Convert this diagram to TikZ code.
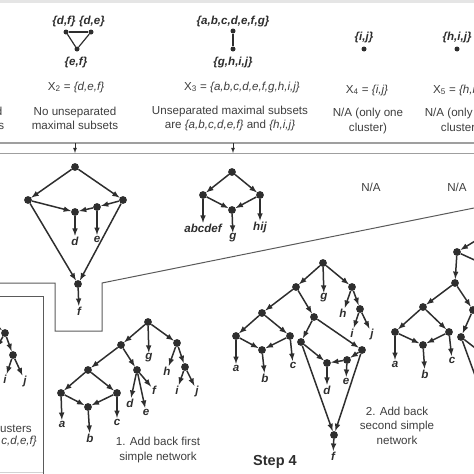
\documentclass[tikz,border=0pt]{standalone}
\usepackage{fontspec}
\setmainfont{Liberation Sans}
\usepackage{tikz}
\usetikzlibrary{arrows}
\definecolor{ink}{HTML}{2E2E2E}
\definecolor{txtc}{HTML}{3E3E3E}
\definecolor{rule}{HTML}{5A5A5A}
\tikzstyle{dot}=[circle, inner sep=0pt, minimum size=7.8pt, fill=ink, draw=none]
\tikzstyle{sdot}=[circle, inner sep=0pt, minimum size=5pt, fill=ink, draw=none]
\tikzstyle{lab}=[inner sep=0.8pt, text=ink, font=\fontsize{11.6}{14}\selectfont\bfseries\itshape]
\tikzstyle{txt}=[inner sep=0pt, text=txtc, align=center, font=\fontsize{11.6}{14.5}\selectfont]
\tikzstyle{arr}=[-latex, line width=1.5pt, draw=ink]
\tikzstyle{edge}=[line width=1.2pt, draw=ink]
\tikzstyle{frame}=[line width=1pt, draw=rule]

\begin{document}
\begin{tikzpicture}[x=1pt, y=-1pt]
    \useasboundingbox (0,0) rectangle (474,474);
    \clip (0,0) rectangle (474,474);
    \fill[gray!20] (0,0) rectangle (474,2.5);

    % top row: separation graphs
    \node[txt] (c1) at (-39,118.5) {No unseparated\\maximal subsets};
    \node[lab] (s2a) at (64,21) {\{d,f\}};
    \node[lab] (s2b) at (92,21) {\{d,e\}};
    \node[lab] (s2c) at (76,62) {\{e,f\}};
    \node[sdot] (g2a) at (66,32) {};
    \node[sdot] (g2b) at (91,32) {};
    \node[sdot] (g2c) at (77,49) {};
    \foreach \from/\to in {g2a/g2b, g2a/g2c, g2b/g2c}
    \draw[edge] (\from) -- (\to);
    \node[txt] (x2) at (76,87) {X\textsubscript{2} = \textit{\{d,e,f\}}};
    \node[txt] (c2) at (75,118.5) {No unseparated\\maximal subsets};

    \node[lab] (s3a) at (233,21) {\{a,b,c,d,e,f,g\}};
    \node[lab] (s3b) at (233,62) {\{g,h,i,j\}};
    \node[sdot] (g3a) at (233,31) {};
    \node[sdot] (g3b) at (233,49) {};
    \draw[edge] (g3a) -- (g3b);
    \node[txt] (x3) at (242,87) {X\textsubscript{3} = \textit{\{a,b,c,d,e,f,g,h,i,j\}}};
    \node[txt] (c3) at (230,118.5) {Unseparated maximal subsets\\are \textit{\{a,b,c,d,e,f\}} and \textit{\{h,i,j\}}};

    \node[lab] (s4) at (364,37) {\{i,j\}};
    \node[sdot] (g4) at (364,49) {};
    \node[txt] (x4) at (367,90) {X\textsubscript{4} = \textit{\{i,j\}}};
    \node[txt] (c4) at (368,121) {N/A (only one\\cluster)};

    \node[lab] (s5) at (457,37) {\{h,i,j\}};
    \node[sdot] (g5) at (457,49) {};
    \node[txt] (x5) at (459,90) {X\textsubscript{5} = \textit{\{h,i,j\}}};
    \node[txt] (c5) at (460,121) {N/A (only one\\cluster)};

    % band
    \draw[line width=1.2pt, draw=gray!75] (0,143) -- (474,143);
    \draw[line width=1.2pt, draw=gray!75] (0,153.5) -- (474,153.5);
    \coordinate (b2t) at (75,143);
    \coordinate (b2b) at (75,153);
    \coordinate (b3t) at (233,143);
    \coordinate (b3b) at (233,153);
    \draw[-latex, line width=0.8pt, draw=ink] (b2t) -- (b2b);
    \draw[-latex, line width=0.8pt, draw=ink] (b3t) -- (b3b);

    % simple network for {d,e,f}
    \node[dot] (n2r) at (75,167) {};
    \node[dot] (n2L) at (28,200) {};
    \node[dot] (n2R) at (123,200) {};
    \node[dot] (n2M) at (75,212) {};
    \node[dot] (n2N) at (97,207) {};
    \node[dot] (n2B) at (78,284) {};
    \node[lab] (n2d) at (75,241) {d};
    \node[lab] (n2e) at (97,239) {e};
    \node[lab] (n2f) at (79,311) {f};
    \foreach \from/\to in
      {n2r/n2L, n2r/n2R, n2L/n2M, n2R/n2N, n2N/n2M, n2L/n2B, n2R/n2B,
       n2M/n2d, n2N/n2e, n2B/n2f}
    \draw[arr] (\from) -- (\to);

    % simple network for X3
    \node[dot] (n3t) at (232,172) {};
    \node[dot] (n3l) at (203,195) {};
    \node[dot] (n3r) at (260,195) {};
    \node[dot] (n3m) at (232,210) {};
    \node[lab] (n3a) at (203,228) {abcdef};
    \node[lab] (n3g) at (233,238) {g};
    \node[lab] (n3h) at (260,227) {hij};
    \foreach \from/\to in
      {n3t/n3l, n3t/n3r, n3l/n3m, n3r/n3m, n3l/n3a, n3m/n3g, n3r/n3h}
    \draw[arr] (\from) -- (\to);

    \node[txt] (na4) at (371,187) {N/A};
    \node[txt] (na5) at (457,187) {N/A};

    % outlines
    \draw[frame] (0,283) -- (55,283) -- (55,331) -- (102,331) -- (102,283) -- (474,208);
    \draw[frame] (0,296) -- (43,296) -- (43,474);
    \draw[line width=1pt, draw=gray!35] (0,472) -- (43,472);

    % left box (cut off)
    \coordinate (p00) at (-12,318);
    \coordinate (ph) at (-3,347);
    \node[dot] (p0) at (5,333) {};
    \node[dot] (p1) at (13,355) {};
    \node[lab] (pi) at (5,379) {i};
    \node[lab] (pj) at (25,381) {j};
    \foreach \from/\to in {p00/p0, p0/ph, p0/p1, p1/pi, p1/pj}
    \draw[arr] (\from) -- (\to);
    \node[txt, anchor=east] (k1) at (32,428) {clusters};
    \node[txt, anchor=east] (k2) at (37,441) {\textit{\{a,b,c,d,e,f\}}};

    % step 4, first simple network added back
    \node[dot] (a1T) at (148,322) {};
    \node[dot] (a1A) at (121,345) {};
    \node[dot] (a1B) at (88,370) {};
    \node[dot] (a1C) at (137,370) {};
    \node[dot] (a1D) at (61,393) {};
    \node[dot] (a1E) at (117,393) {};
    \node[dot] (a1F) at (88,407) {};
    \node[dot] (a1H) at (177,343) {};
    \node[dot] (a1I) at (185,367) {};
    \node[lab] (a1g) at (149,358) {g};
    \node[lab] (a1a) at (62,424) {a};
    \node[lab] (a1b) at (90,438) {b};
    \node[lab] (a1c) at (117,422) {c};
    \node[lab] (a1d) at (130,403) {d};
    \node[lab] (a1e) at (146,412) {e};
    \node[lab] (a1f) at (154,390) {f};
    \node[lab] (a1h) at (167,371) {h};
    \node[lab] (a1i) at (177,390) {i};
    \node[lab] (a1j) at (197,391) {j};
    \foreach \from/\to in
      {a1T/a1A, a1T/a1g, a1T/a1H, a1A/a1B, a1A/a1C, a1B/a1D, a1B/a1E,
       a1D/a1F, a1E/a1F, a1D/a1a, a1F/a1b, a1E/a1c, a1C/a1d, a1C/a1e,
       a1C/a1f, a1H/a1h, a1H/a1I, a1I/a1i, a1I/a1j}
    \draw[arr] (\from) -- (\to);

    % second simple network added back
    \node[dot] (a2T) at (323,263) {};
    \node[dot] (a2A) at (296,287) {};
    \node[dot] (a2B) at (262,313) {};
    \node[dot] (a2C) at (314,317) {};
    \node[dot] (a2D) at (236,336) {};
    \node[dot] (a2E) at (290,336) {};
    \node[dot] (a2F) at (262,350) {};
    \node[dot] (a2H) at (352,287) {};
    \node[dot] (a2I) at (360,309) {};
    \node[dot] (a2L) at (301,342) {};
    \node[dot] (a2R) at (362,350) {};
    \node[dot] (a2M) at (327,363) {};
    \node[dot] (a2N) at (347,360) {};
    \node[dot] (a2X) at (334,435) {};
    \node[lab] (a2g) at (324,298) {g};
    \node[lab] (a2a) at (236,368) {a};
    \node[lab] (a2b) at (265,378) {b};
    \node[lab] (a2c) at (293,365) {c};
    \node[lab] (a2h) at (343,313) {h};
    \node[lab] (a2i) at (352,333) {i};
    \node[lab] (a2j) at (372,334) {j};
    \node[lab] (a2d) at (327,390) {d};
    \node[lab] (a2e) at (346,381) {e};
    \node[lab] (a2f) at (333,456) {f};
    \foreach \from/\to in
      {a2T/a2g, a2T/a2A, a2T/a2H, a2A/a2B, a2A/a2C, a2B/a2D, a2B/a2E,
       a2D/a2F, a2E/a2F, a2D/a2a, a2F/a2b, a2E/a2c, a2H/a2h, a2H/a2I,
       a2I/a2i, a2I/a2j, a2C/a2L, a2C/a2R, a2L/a2M, a2R/a2N, a2N/a2M,
       a2M/a2d, a2N/a2e, a2L/a2X, a2R/a2X, a2X/a2f}
    \draw[arr] (\from) -- (\to);

    % third network (cut off at the right)
    \coordinate (a3in) at (490,232);
    \coordinate (a3o1) at (492,268);
    \coordinate (a3o2) at (495,430);
    \coordinate (a3o3) at (488,358);
    \node[dot] (a3U) at (457,252) {};
    \node[dot] (a3V) at (455,283) {};
    \node[dot] (a3W) at (423,307) {};
    \node[dot] (a3X) at (473,310) {};
    \node[dot] (a3Y) at (395,332) {};
    \node[dot] (a3Z) at (449,332) {};
    \node[dot] (a3Q) at (423,345) {};
    \node[dot] (a3S) at (461,337) {};
    \node[lab] (a3a) at (395,364) {a};
    \node[lab] (a3b) at (425,374) {b};
    \node[lab] (a3c) at (452,360) {c};
    \foreach \from/\to in
      {a3in/a3U, a3U/a3o1, a3U/a3V, a3V/a3W, a3V/a3X, a3W/a3Y, a3W/a3Z,
       a3Y/a3Q, a3Z/a3Q, a3Y/a3a, a3Q/a3b, a3Z/a3c, a3X/a3S, a3S/a3o2,
       a3S/a3o3}
    \draw[arr] (\from) -- (\to);

    % captions
    \node[txt] (t1) at (158,450) {1. Add back first\\simple network};
    \node[txt] (t2) at (397,425.5) {2. Add back\\second simple\\network};
    \node[inner sep=0pt, text=ink, font=\fontsize{14.5}{16}\selectfont\bfseries] (st) at (275,462) {Step 4};
\end{tikzpicture}
\end{document}
